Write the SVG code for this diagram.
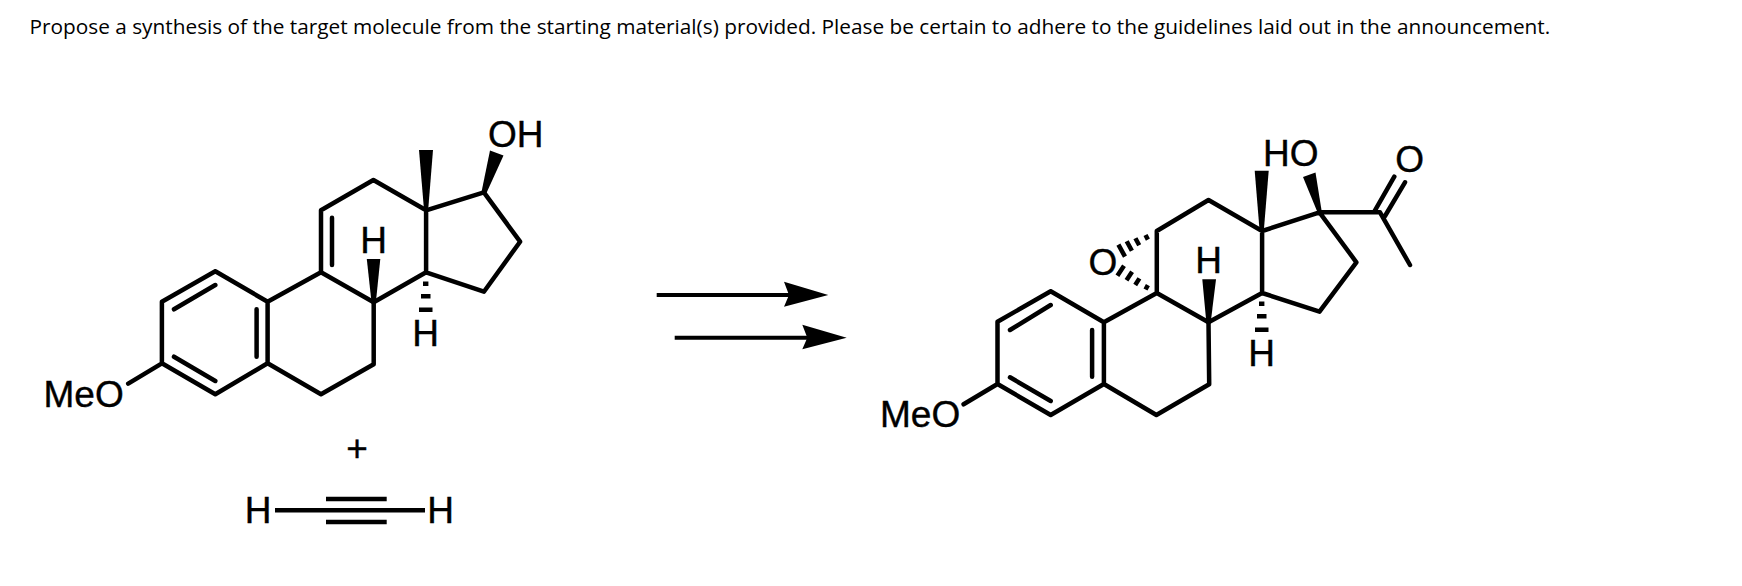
<svg xmlns="http://www.w3.org/2000/svg" width="1742" height="586" viewBox="0 0 1742 586">
<style>
.b{fill:none;stroke:#000;stroke-width:4.5;stroke-linejoin:round;stroke-linecap:round}
.d{fill:none;stroke:#000;stroke-width:4.5}
.a{fill:none;stroke:#000;stroke-width:4}
.t{fill:none;stroke:#000;stroke-width:4.6}
.w{fill:#000;stroke:none}
.l{font-family:"Liberation Sans",Arial,sans-serif;font-size:37px;fill:#000;stroke:#000;stroke-width:.4}
.m{text-anchor:middle}
.q{font-family:"Open Sans","Noto Sans",sans-serif;font-size:20.8px;fill:#000}
</style>
<rect width="1742" height="586" fill="#fff"/>
<text id="prompt" class="q" x="29.5" y="33.5">Propose a synthesis of the target molecule from the starting material(s) provided. Please be certain to adhere to the guidelines laid out in the announcement.</text>
<g id="starting-material">
<path class="b" d="M215.3 271.3L161.9 301.7V363.3L215.3 394.3L267.6 363.3V301.7L215.3 271.3M267.6 301.7L321 272.3V210.3L373.4 180L426.1 210.3V272.3L373.7 302.3L321 272.3M373.7 302.3V364.3L321 394.3L267.6 363.3M426.1 210.3L483.9 192.3L520.1 241.7L483.9 291.7L426.1 272.3M161.9 363.3L128.2 383.7M215.3 285L174 309.3M174 356.7L215.3 381M256.6 309.3V356.7M332 217.7V265"/>
<polygon class="w" points="419,150 433,150 428,212 424.2,212"/>
<polygon class="w" points="490,150.5 503.5,155.5 486,194 481.5,192"/>
<polygon class="w" points="366.8,259 380.3,259 375.7,304 371.7,304"/>
<path class="d" d="M423 283.7h5.4M421 296.3h9.5M419 309.7h13.5"/>
<text class="l" x="488" y="146.7">OH</text>
<text class="l m" x="373.5" y="253.3">H</text>
<text class="l m" x="425.7" y="346">H</text>
<text class="l" x="43.5" y="406.7">MeO</text>
</g>
<g id="plus"><text class="l m" x="357" y="461">+</text></g>
<g id="acetylene">
<path class="t" d="M275 510.3H425M326 499H386.7M326 522H386.7"/>
<text class="l m" x="258" y="522.7">H</text>
<text class="l m" x="440.7" y="522.7">H</text>
</g>
<g id="arrows">
<path class="a" d="M656.7 295H790"/>
<polygon class="w" points="828.3,295 784,281.7 789,295 784,306.7"/>
<path class="a" d="M674.7 337.7H808"/>
<polygon class="w" points="846.7,337.7 802.3,324.7 807.3,337.7 802.3,349.3"/>
</g>
<g id="product">
<path class="b" d="M1050.7 291.3L997.5 321.7V384L1050.7 415L1103.9 384V322.3L1050.7 291.3M1103.9 322.3L1156.8 293V231L1208.5 200L1262.1 231V293L1208.5 322.3L1156.8 293M1208.5 322.3L1209.2 384.3L1156.4 415L1103.9 384M1262.1 231L1319.5 212.3L1356.4 262.3L1319.5 311.7L1262.1 293M997.5 384L963.6 404.3M1050.7 305L1010 330M1010 377.3L1050.7 401M1092.1 330V376.7M1319.5 212.3H1380L1410 265M1374.3 211.7L1394.3 176.7M1385 216L1405 182.3"/>
<polygon class="w" points="1254.7,170.7 1268.7,170.7 1263.7,232 1259.7,232"/>
<polygon class="w" points="1303,177 1315.5,172.5 1321.8,212 1317.8,213"/>
<polygon class="w" points="1202.3,279.3 1216,279.3 1210.5,324 1206.5,324"/>
<path class="d" d="M1259 303.7h5.4M1257 316.3h9.5M1255 329.7h13.5"/>
<path class="d" d="M1145.5 235L1147.9 239.6M1135.4 238.2L1139.2 245.2M1126.7 241.2L1131.9 250.8M1118.4 244.7L1125 256.7"/>
<path class="d" d="M1147.9 285.1L1145.5 289.5M1139.4 278.4L1135.2 285M1132.1 271.8L1126.5 280.2M1124 265.7L1117.4 275.7"/>
<text class="l m" x="1103" y="275.3">O</text>
<text class="l" x="1263" y="165.7">HO</text>
<text class="l m" x="1409.7" y="171.7">O</text>
<text class="l m" x="1208.5" y="273.3">H</text>
<text class="l m" x="1261.7" y="366">H</text>
<text class="l" x="880" y="426.7">MeO</text>
</g>
</svg>
